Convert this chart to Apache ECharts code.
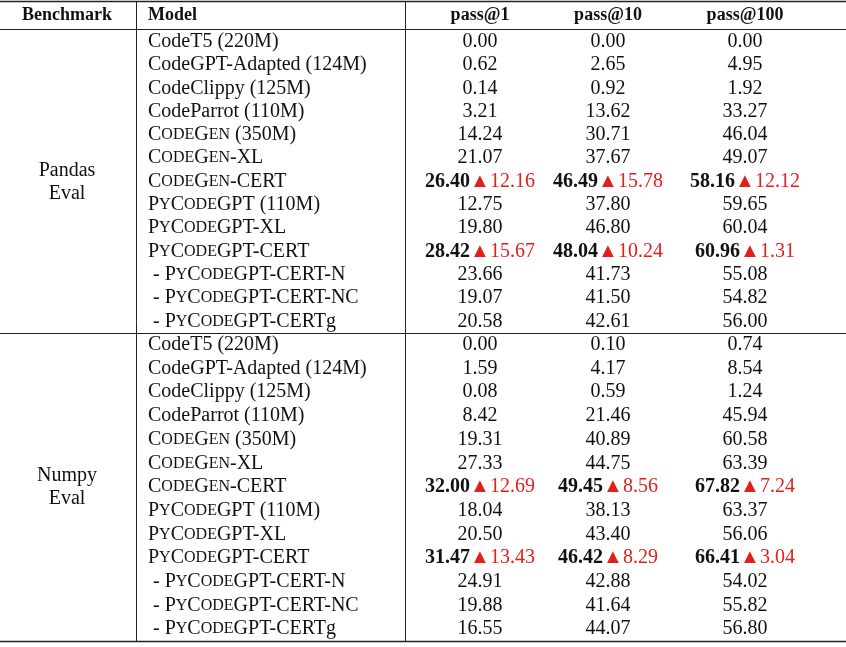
<!DOCTYPE html>
<html>
<head>
<meta charset="utf-8">
<script src="https://cdn.jsdelivr.net/npm/echarts@6/dist/echarts.min.js"></script>
<style>html,body{margin:0;background:#fff}#chart{width:846px;height:647px}</style>
</head>
<body>
<div id="chart"></div>
<script>
// 表头与数据
const headers = ['Benchmark', 'Model', 'pass@1', 'pass@10', 'pass@100'];
const benchmarks = [['Pandas', 'Eval'], ['Numpy', 'Eval']];
const models = [
    'CodeT5 (220M)', 'CodeGPT-Adapted (124M)', 'CodeClippy (125M)', 'CodeParrot (110M)',
    'C{s|ODE}G{s|EN} (350M)', 'C{s|ODE}G{s|EN}-XL', 'C{s|ODE}G{s|EN}-CERT',
    'P{s|Y}C{s|ODE}GPT (110M)', 'P{s|Y}C{s|ODE}GPT-XL', 'P{s|Y}C{s|ODE}GPT-CERT',
    ' - P{s|Y}C{s|ODE}GPT-CERT-N', ' - P{s|Y}C{s|ODE}GPT-CERT-NC', ' - P{s|Y}C{s|ODE}GPT-CERTg'
];
const pandasPass1 = ['0.00', '0.62', '0.14', '3.21', '14.24', '21.07', '26.40', '12.75', '19.80', '28.42', '23.66', '19.07', '20.58'];
const pandasPass10 = ['0.00', '2.65', '0.92', '13.62', '30.71', '37.67', '46.49', '37.80', '46.80', '48.04', '41.73', '41.50', '42.61'];
const pandasPass100 = ['0.00', '4.95', '1.92', '33.27', '46.04', '49.07', '58.16', '59.65', '60.04', '60.96', '55.08', '54.82', '56.00'];
const pandasGain = { 6: ['12.16', '15.78', '12.12'], 9: ['15.67', '10.24', '1.31'] };
const numpyPass1 = ['0.00', '1.59', '0.08', '8.42', '19.31', '27.33', '32.00', '18.04', '20.50', '31.47', '24.91', '19.88', '16.55'];
const numpyPass10 = ['0.10', '4.17', '0.59', '21.46', '40.89', '44.75', '49.45', '38.13', '43.40', '46.42', '42.88', '41.64', '44.07'];
const numpyPass100 = ['0.74', '8.54', '1.24', '45.94', '60.58', '63.39', '67.82', '63.37', '56.06', '66.41', '54.02', '55.82', '56.80'];
const numpyGain = { 6: ['12.69', '8.56', '7.24'], 9: ['13.43', '8.29', '3.04'] };

const blocks = [
    { cols: [pandasPass1, pandasPass10, pandasPass100], gain: pandasGain, top: 30, bottom: 333 },
    { cols: [numpyPass1, numpyPass10, numpyPass100], gain: numpyGain, top: 333, bottom: 641 }
];

const FONT = '"Liberation Serif", "DejaVu Serif", serif';
const colX = [67, 148, 480, 608, 745];
const rich = {
    n: { fontSize: 20, fontFamily: FONT, fill: '#111' },
    s: { fontSize: 16, fontFamily: FONT, fill: '#111' },
    b: { fontSize: 20, fontFamily: FONT, fontWeight: 'bold', fill: '#111' },
    r: { fontSize: 20, fontFamily: FONT, fill: '#e0201b' }
};

function text(x, y, str, align, extra) {
    return {
        type: 'text', x: x, y: y,
        style: Object.assign({
            text: str, fontFamily: FONT, fontSize: 20, fill: '#111',
            align: align, verticalAlign: 'middle', rich: rich
        }, extra || {})
    };
}
function line(x1, y1, x2, y2, w) {
    return { type: 'line', shape: { x1, y1, x2, y2 }, style: { stroke: '#222', lineWidth: w || 1 } };
}

const elements = [];
// 表头
elements.push(text(colX[0], 15, headers[0], 'center', { fontWeight: 'bold', fontSize: 18 }));
elements.push(text(colX[1], 15, headers[1], 'left', { fontWeight: 'bold', fontSize: 18 }));
for (let c = 2; c < 5; c++) {
    elements.push(text(colX[c], 15, headers[c], 'center', { fontWeight: 'bold', fontSize: 18 }));
}

blocks.forEach((blk, bi) => {
    const h = (blk.bottom - blk.top) / models.length;
    const mid = (blk.top + blk.bottom) / 2;
    elements.push(text(colX[0], mid - 11, benchmarks[bi][0], 'center'));
    elements.push(text(colX[0], mid + 12, benchmarks[bi][1], 'center'));
    models.forEach((m, i) => {
        const y = blk.top + h * (i + 0.5);
        elements.push(text(colX[1], y, m.replace(/(^|\})([^{]+)(?=\{|$)/g, '$1{n|$2}'), 'left'));
        for (let c = 0; c < 3; c++) {
            const v = blk.cols[c][i];
            const g = blk.gain[i];
            const s = g ? '{b|' + v + '}{r|▲' + g[c] + '}' : v;
            elements.push(text(colX[c + 2], y, s, 'center'));
        }
    });
});

// 表格线
elements.push(line(0, 1.5, 846, 1.5, 1.5));
elements.push(line(0, 29.5, 846, 29.5));
elements.push(line(0, 333.5, 846, 333.5));
elements.push(line(0, 641.5, 846, 641.5, 1.5));
elements.push(line(136.5, 1.5, 136.5, 641.5));
elements.push(line(405.5, 1.5, 405.5, 641.5));

const chart = echarts.init(document.getElementById('chart'));
chart.setOption({ backgroundColor: '#fff', graphic: { elements: elements } });
</script>
</body>
</html>
